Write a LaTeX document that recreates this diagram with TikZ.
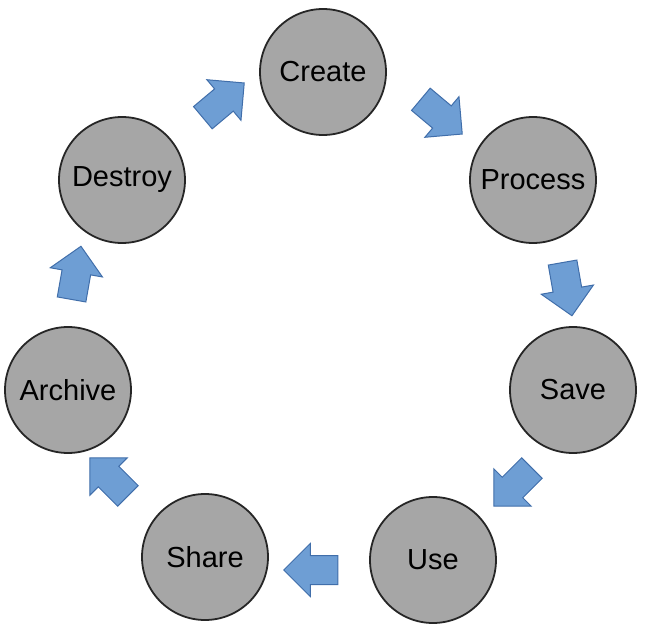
\documentclass[tikz,border=0pt]{standalone}
\usepackage{fontspec}
\setmainfont{Liberation Sans}
\usetikzlibrary{shapes.arrows}
\begin{document}
\begin{tikzpicture}[x=1pt,y=-1pt,
  stage/.style={circle,draw=black!85,line width=1.8pt,fill=gray!70,minimum size=126pt,inner sep=0pt,font=\fontsize{29}{31}\selectfont},
  barrow/.style={single arrow,draw={rgb,255:red,64;green,110;blue,170},fill={rgb,255:red,110;green,158;blue,212},line width=1pt,inner sep=14pt,single arrow head extend=12pt,minimum height=54pt}]
\useasboundingbox (0,0) rectangle (646,629);
\node[stage] (create) at (323,72) {Create};
\node[stage] (process) at (533,180) {Process};
\node[stage] (save) at (573,390) {Save};
\node[stage] (use) at (433,560) {Use};
\node[stage] (share) at (205,557) {Share};
\node[stage] (archive) at (68,390) {Archive};
\node[stage] (destroy) at (122,180) {Destroy};
\node[barrow,rotate=40] (a1) at (218,105) {};
\node[barrow,rotate=-40] (a2) at (436,112) {};
\node[barrow,rotate=-80] (a3) at (566,282) {};
\node[barrow,rotate=-135] (a4) at (518,482) {};
\node[barrow,rotate=180] (a5) at (318,570) {};
\node[barrow,rotate=135] (a6) at (114,482) {};
\node[barrow,rotate=80] (a7) at (75,280) {};
\end{tikzpicture}
\end{document}
